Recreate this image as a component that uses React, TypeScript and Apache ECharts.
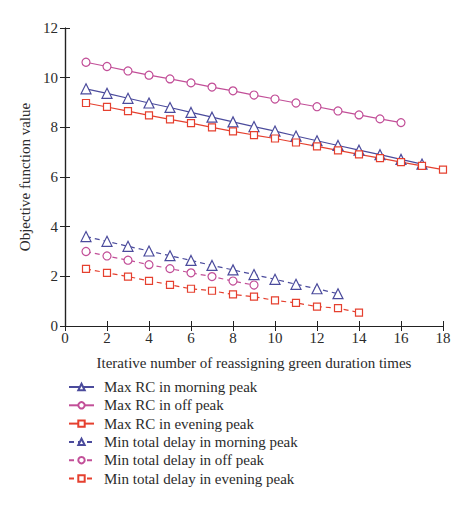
import React, { useEffect, useRef } from "react";
import * as echarts from "echarts";

// Iteration counts (x) and objective values (y) for each scheme
const maxRcMorningX = [1, 2, 3, 4, 5, 6, 7, 8, 9, 10, 11, 12, 13, 14, 15, 16, 17];
const maxRcMorning = [9.55, 9.37, 9.17, 8.98, 8.80, 8.60, 8.41, 8.22, 8.03, 7.85, 7.65, 7.46, 7.27, 7.08, 6.90, 6.71, 6.52];

const maxRcOffX = [1, 2, 3, 4, 5, 6, 7, 8, 9, 10, 11, 12, 13, 14, 15, 16];
const maxRcOff = [10.62, 10.45, 10.27, 10.10, 9.95, 9.79, 9.62, 9.47, 9.30, 9.14, 8.98, 8.83, 8.66, 8.50, 8.34, 8.19];

const maxRcEveningX = [1, 2, 3, 4, 5, 6, 7, 8, 9, 10, 11, 12, 13, 14, 15, 16, 17, 18];
const maxRcEvening = [8.98, 8.82, 8.65, 8.48, 8.32, 8.17, 8.00, 7.84, 7.69, 7.55, 7.39, 7.23, 7.07, 6.91, 6.76, 6.60, 6.45, 6.30];

const delayMorningX = [1, 2, 3, 4, 5, 6, 7, 8, 9, 10, 11, 12, 13];
const delayMorning = [3.60, 3.41, 3.21, 3.02, 2.83, 2.64, 2.44, 2.26, 2.07, 1.88, 1.68, 1.50, 1.30];

const delayOffX = [1, 2, 3, 4, 5, 6, 7, 8, 9];
const delayOff = [3.00, 2.82, 2.65, 2.47, 2.31, 2.14, 1.99, 1.81, 1.65];

const delayEveningX = [1, 2, 3, 4, 5, 6, 7, 8, 9, 10, 11, 12, 13, 14];
const delayEvening = [2.30, 2.14, 1.99, 1.82, 1.66, 1.50, 1.42, 1.27, 1.18, 1.03, 0.93, 0.78, 0.72, 0.54];

const xTicks = [0, 2, 4, 6, 8, 10, 12, 14, 16, 18];
const yTicks = [0, 2, 4, 6, 8, 10, 12];

const seriesNames = [
  "Max RC in morning peak",
  "Max RC in off peak",
  "Max RC in evening peak",
  "Min total delay in morning peak",
  "Min total delay in off peak",
  "Min total delay in evening peak",
];

const BLUE = "#4b4b9c";
const MAGENTA = "#c24f98";
const RED = "#e5402f";
const FONT = "Liberation Serif";
const TEXT = "#2b2b2b";

const TRIANGLE = "path://M0,-1L0.9,0.7L-0.9,0.7Z";

function pairs(xs: number[], ys: number[]) {
  return xs.map((x, i) => [x, ys[i]]);
}

function makeSeries(
  name: string,
  xs: number[],
  ys: number[],
  color: string,
  symbol: string,
  symbolSize: number,
  dashed: boolean
) {
  return {
    name,
    type: "line",
    data: pairs(xs, ys),
    symbol,
    symbolSize,
    showAllSymbol: true,
    itemStyle: { color: "#ffffff", borderColor: color, borderWidth: 1.2 },
    lineStyle: { color, width: 1.2, type: dashed ? [5, 4] : "solid" },
    emphasis: { disabled: true },
  };
}

export default function App() {
  const ref = useRef<HTMLDivElement>(null);

  useEffect(() => {
    if (!ref.current) return;
    const chart = echarts.init(ref.current, null, { renderer: "svg" });

    const axisLine = { show: true, lineStyle: { color: "#222", width: 1.2 } };
    const axisTick = { show: true, inside: true, length: 5, lineStyle: { color: "#222" } };

    chart.setOption({
      animation: false,
      backgroundColor: "#ffffff",
      grid: { left: 65, right: 31, top: 28, bottom: 186, containLabel: false },
      legend: {
        orient: "vertical",
        left: 68,
        top: 379,
        height: 130,
        padding: 0,
        itemWidth: 25,
        itemHeight: 8,
        itemGap: 2.3,
        textStyle: {
          fontFamily: FONT,
          fontSize: 15,
          lineHeight: 16,
          color: TEXT,
          padding: [0, 0, 0, 5],
        },
        data: seriesNames,
      },
      xAxis: [
        {
          type: "value",
          min: 0,
          max: 18,
          interval: 2,
          position: "bottom",
          name: "Iterative number of reassigning green duration times",
          nameLocation: "middle",
          nameGap: 29,
          nameTextStyle: { fontFamily: FONT, fontSize: 15, color: TEXT },
          axisLine,
          axisTick,
          splitLine: { show: false },
          axisLabel: {
            fontFamily: FONT,
            fontSize: 15,
            color: TEXT,
            margin: 4,
            formatter: (v: number) => (xTicks.includes(v) ? String(v) : ""),
          },
        },
        {
          type: "value",
          min: 0,
          max: 18,
          interval: 2,
          position: "top",
          axisLine,
          axisTick,
          axisLabel: { show: false },
          splitLine: { show: false },
        },
      ],
      yAxis: [
        {
          type: "value",
          min: 0,
          max: 12,
          interval: 2,
          position: "left",
          name: "Objective function value",
          nameLocation: "middle",
          nameGap: 25,
          nameTextStyle: { fontFamily: FONT, fontSize: 15, color: TEXT },
          axisLine,
          axisTick,
          splitLine: { show: false },
          axisLabel: {
            fontFamily: FONT,
            fontSize: 15,
            color: TEXT,
            margin: 7,
            formatter: (v: number) => (yTicks.includes(v) ? String(v) : ""),
          },
        },
        {
          type: "value",
          min: 0,
          max: 12,
          interval: 2,
          position: "right",
          axisLine,
          axisTick,
          axisLabel: { show: false },
          splitLine: { show: false },
        },
      ],
      series: [
        makeSeries(seriesNames[0], maxRcMorningX, maxRcMorning, BLUE, TRIANGLE, 10, false),
        makeSeries(seriesNames[1], maxRcOffX, maxRcOff, MAGENTA, "circle", 8, false),
        makeSeries(seriesNames[2], maxRcEveningX, maxRcEvening, RED, "rect", 7, false),
        makeSeries(seriesNames[3], delayMorningX, delayMorning, BLUE, TRIANGLE, 10, true),
        makeSeries(seriesNames[4], delayOffX, delayOff, MAGENTA, "circle", 8, true),
        makeSeries(seriesNames[5], delayEveningX, delayEvening, RED, "rect", 7, true),
      ],
    });

    return () => chart.dispose();
  }, []);

  return <div ref={ref} style={{ width: 474, height: 512, position: "absolute", left: 0, top: 0 }} />;
}
